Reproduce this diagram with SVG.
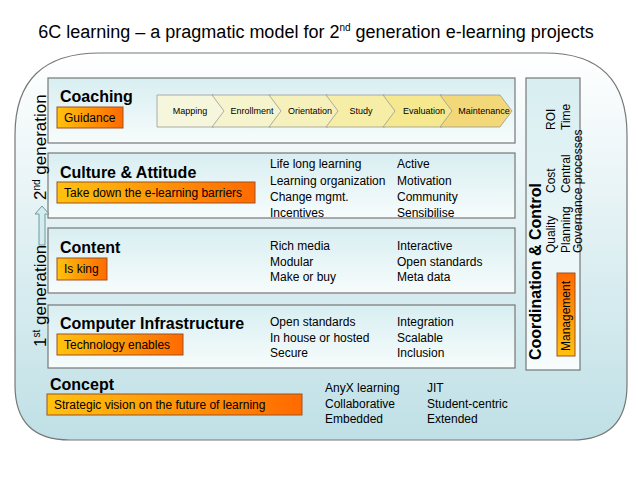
<svg xmlns="http://www.w3.org/2000/svg" width="638" height="478" viewBox="0 0 638 478">
<defs>
<linearGradient id="bg" x1="0" y1="0" x2="0" y2="1"><stop offset="0" stop-color="#ffffff"/><stop offset="1" stop-color="#bfe0e6"/></linearGradient>
<linearGradient id="lay" x1="0" y1="0" x2="0" y2="1"><stop offset="0" stop-color="#d8eef1"/><stop offset="1" stop-color="#f7fcfc"/></linearGradient>
<linearGradient id="org" x1="0" y1="0" x2="1" y2="0"><stop offset="0" stop-color="#ffc20e"/><stop offset="1" stop-color="#ff6a00"/></linearGradient>
<linearGradient id="orgv" x1="0" y1="1" x2="0" y2="0"><stop offset="0" stop-color="#ffc20e"/><stop offset="1" stop-color="#ff6a00"/></linearGradient>
</defs>
<style>
text{font-family:"Liberation Sans",Arial,sans-serif;fill:#000}
.h{font-size:16px;font-weight:bold}
.t{font-size:12px}
.s{font-size:9px}
.layer{fill:url(#lay);stroke:#777;stroke-width:1.2}
.ob{fill:url(#org);stroke:#a05020;stroke-width:1}
.ch{stroke:#999;stroke-width:0.8}
</style>
<rect width="638" height="478" fill="#fff"/>
<text x="316" y="38" text-anchor="middle" style="font-size:18px">6C learning – a pragmatic model for 2<tspan dy="-7" style="font-size:10px">nd</tspan><tspan dy="7"> generation e-learning projects</tspan></text>
<path d="M100,53 H545 Q627,53 627,135 V385 Q627,440 572,440 H70 Q15,440 15,385 V135 Q15,53 100,53 Z" fill="url(#bg)" stroke="#777" stroke-width="1.2"/>
<g id="coaching">
<rect class="layer" x="48" y="78" width="467" height="65"/>
<text class="h" x="60" y="102">Coaching</text>
<rect class="ob" x="57" y="107" width="66" height="21"/>
<text class="t" x="64" y="122">Guidance</text>
<g id="chevrons">
<path class="ch" fill="#f6f6dc" d="M157,95 H214 L226,111 L214,127 H157 Z"/>
<path class="ch" fill="#f6f4cc" d="M212,95 H271 L283,111 L271,127 H212 L224,111 Z"/>
<path class="ch" fill="#f6f1bc" d="M269,95 H328 L340,111 L328,127 H269 L281,111 Z"/>
<path class="ch" fill="#f6eea6" d="M326,95 H385 L397,111 L385,127 H326 L338,111 Z"/>
<path class="ch" fill="#f6e88e" d="M383,95 H442 L454,111 L442,127 H383 L395,111 Z"/>
<path class="ch" fill="#f2d878" d="M440,95 H500 L512,111 L500,127 H440 L452,111 Z"/>
<text class="s" x="190" y="114" text-anchor="middle">Mapping</text>
<text class="s" x="252" y="114" text-anchor="middle">Enrollment</text>
<text class="s" x="310" y="114" text-anchor="middle">Orientation</text>
<text class="s" x="361" y="114" text-anchor="middle">Study</text>
<text class="s" x="424" y="114" text-anchor="middle">Evaluation</text>
<text class="s" x="484" y="114" text-anchor="middle">Maintenance</text>
</g>
</g>
<g id="culture">
<rect class="layer" x="48" y="153" width="467" height="65"/>
<text class="h" x="60" y="178">Culture &amp; Attitude</text>
<rect class="ob" x="57" y="182" width="198" height="21"/>
<text class="t" x="64" y="197">Take down the e-learning barriers</text>
<text class="t" x="270" y="168">Life long learning</text><text class="t" x="270" y="185">Learning organization</text><text class="t" x="270" y="201">Change mgmt.</text><text class="t" x="270" y="217">Incentives</text>
<text class="t" x="397" y="168">Active</text><text class="t" x="397" y="185">Motivation</text><text class="t" x="397" y="201">Community</text><text class="t" x="397" y="217">Sensibilise</text>
</g>
<g id="content">
<rect class="layer" x="48" y="228" width="467" height="65"/>
<text class="h" x="60" y="253">Content</text>
<rect class="ob" x="57" y="258" width="50" height="22"/>
<text class="t" x="64" y="273">Is king</text>
<text class="t" x="270" y="250">Rich media</text><text class="t" x="270" y="266">Modular</text><text class="t" x="270" y="281">Make or buy</text>
<text class="t" x="397" y="250">Interactive</text><text class="t" x="397" y="266">Open standards</text><text class="t" x="397" y="281">Meta data</text>
</g>
<g id="infrastructure">
<rect class="layer" x="48" y="305" width="467" height="63"/>
<text class="h" x="60" y="329">Computer Infrastructure</text>
<rect class="ob" x="57" y="334" width="126" height="21"/>
<text class="t" x="64" y="349">Technology enables</text>
<text class="t" x="270" y="326">Open standards</text><text class="t" x="270" y="342">In house or hosted</text><text class="t" x="270" y="357">Secure</text>
<text class="t" x="397" y="326">Integration</text><text class="t" x="397" y="342">Scalable</text><text class="t" x="397" y="357">Inclusion</text>
</g>
<g id="concept">
<text class="h" x="50" y="390">Concept</text>
<rect class="ob" x="47" y="394" width="255" height="21"/>
<text class="t" x="54" y="409">Strategic vision on the future of learning</text>
<text class="t" x="325" y="392">AnyX learning</text><text class="t" x="325" y="408">Collaborative</text><text class="t" x="325" y="423">Embedded</text>
<text class="t" x="427" y="392">JIT</text><text class="t" x="427" y="408">Student-centric</text><text class="t" x="427" y="423">Extended</text>
</g>
<g id="coordination">
<rect x="526" y="78" width="54" height="292" fill="url(#lay)" stroke="#777" stroke-width="1.2"/>
<text class="h" transform="translate(541,360) rotate(-90)">Coordination &amp; Control</text>
<text class="t" transform="translate(555,253) rotate(-90)">Quality</text>
<text class="t" transform="translate(555,193) rotate(-90)">Cost</text>
<text class="t" transform="translate(555,130) rotate(-90)">ROI</text>
<text class="t" transform="translate(570,253) rotate(-90)">Planning</text>
<text class="t" transform="translate(570,193) rotate(-90)">Central</text>
<text class="t" transform="translate(570,130) rotate(-90)">Time</text>
<text class="t" transform="translate(582,253) rotate(-90)">Governance processes</text>
<rect x="557" y="273" width="18" height="83" fill="url(#orgv)" stroke="#a05020"/>
<text class="t" transform="translate(570,351) rotate(-90)">Management</text>
</g>
<g id="generations">
<text transform="translate(46,200) rotate(-90)" style="font-size:17px">2<tspan dy="-6" style="font-size:10px">nd</tspan><tspan dy="6"> generation</tspan></text>
<text transform="translate(46,347) rotate(-90)" style="font-size:17px">1<tspan dy="-6" style="font-size:10px">st</tspan><tspan dy="6"> generation</tspan></text>
<path d="M39,245 V214 H35 L42,206 L49,214 H45 V245 Z" fill="#d4ecee" stroke="#6a9aa0" stroke-width="1"/>
</g>
</svg>
